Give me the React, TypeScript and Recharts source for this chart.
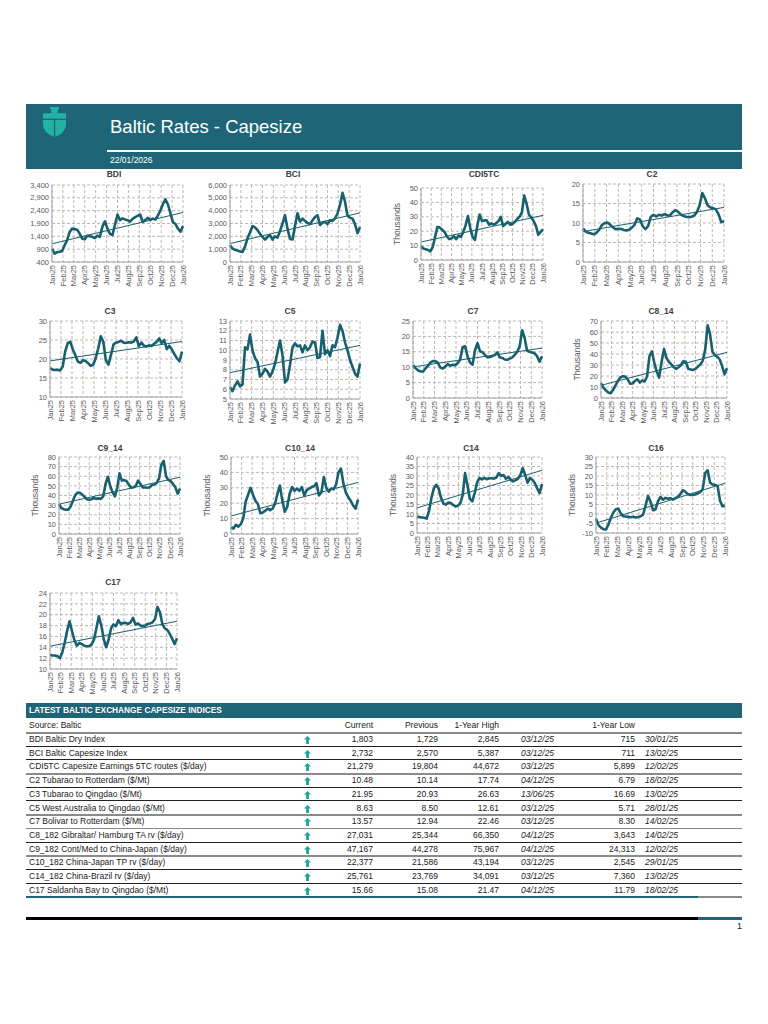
import React from "react";
import { LineChart, Line, XAxis, YAxis, CartesianGrid, ReferenceLine } from "recharts";

// month tick labels, Jan25 .. Jan26
const MONTHS = ["Jan25", "Feb25", "Mar25", "Apr25", "May25", "Jun25", "Jul25", "Aug25", "Sep25", "Oct25", "Nov25", "Dec25", "Jan26"];
const LAST_WEEK = 52;
const MONTH_TICKS = MONTHS.map((_, i) => (i * LAST_WEEK) / 12);

// weekly readings, one per week from Jan25 to Jan26
const BDI_VALUES = [920, 730, 780, 800, 830, 1050, 1250, 1570, 1700, 1680, 1660, 1500, 1310, 1290, 1420, 1400, 1380, 1330, 1430, 1380, 1780, 1980, 1700, 1500, 1450, 1850, 2250, 2030, 2100, 2060, 2030, 1970, 2080, 2150, 2200, 2250, 1960, 2030, 2120, 2040, 2090, 2060, 2200, 2400, 2650, 2845, 2650, 2300, 1950, 1880, 1700, 1580, 1803];
const BCI_VALUES = [1300, 1050, 950, 900, 820, 780, 1200, 1850, 2300, 2800, 2700, 2480, 2200, 1950, 1750, 1950, 2100, 1750, 2000, 1900, 2400, 3000, 3650, 2600, 1800, 1750, 2800, 3800, 3150, 3380, 3200, 3050, 2950, 3250, 3500, 3650, 2880, 3050, 3130, 2950, 3250, 3200, 3400, 3780, 4450, 5387, 4700, 3600, 3450, 3380, 2950, 2250, 2732];
const CDI5TC_VALUES = [9.5, 8.0, 7.5, 7.0, 6.0, 9.0, 16.0, 23.0, 22.5, 21.0, 19.5, 16.5, 14.5, 15.0, 16.5, 14.5, 17.0, 16.0, 19.5, 24.0, 30.5, 22.0, 16.0, 14.0, 24.0, 31.5, 27.0, 27.5, 27.5, 24.5, 25.5, 24.5, 25.5, 27.0, 30.0, 23.5, 25.0, 26.5, 24.5, 25.0, 26.5, 28.5, 30.0, 33.0, 44.7, 39.0, 31.5, 29.5, 27.0, 23.5, 17.5, 19.5, 21.3];
const C2_VALUES = [8.6, 7.8, 7.5, 7.3, 7.1, 7.5, 8.3, 9.5, 10.0, 10.1, 9.6, 8.9, 8.4, 8.5, 8.5, 8.2, 8.1, 8.3, 8.8, 9.5, 11.2, 10.9, 9.2, 8.4, 9.2, 11.6, 12.1, 11.7, 12.1, 11.9, 12.3, 12.0, 11.9, 12.7, 13.3, 12.9, 12.2, 11.8, 11.6, 11.5, 11.6, 11.9, 12.8, 14.5, 17.7, 16.3, 14.5, 14.0, 13.8, 13.5, 12.2, 10.2, 10.48];
const C3_VALUES = [17.6, 17.2, 17.1, 17.2, 17.0, 18.0, 22.0, 24.2, 24.5, 22.5, 21.0, 19.3, 19.0, 19.7, 19.5, 18.9, 18.2, 18.5, 20.2, 22.8, 26.0, 24.5, 19.7, 18.5, 21.0, 23.8, 24.3, 24.5, 24.8, 24.3, 24.2, 24.4, 24.3, 24.6, 25.7, 23.4, 24.3, 23.5, 23.3, 23.6, 23.4, 24.0, 24.5, 25.4, 24.2, 25.0, 22.6, 23.5, 22.5, 21.3, 20.2, 19.4, 21.95];
const C5_VALUES = [6.2, 5.8, 6.4, 6.8, 6.3, 6.5, 10.3, 10.1, 11.6, 10.0, 9.2, 8.8, 7.3, 7.6, 8.1, 7.8, 7.3, 7.8, 8.6, 9.8, 11.0, 9.5, 6.7, 7.0, 8.5, 10.3, 10.7, 10.4, 10.5, 9.8, 10.5, 10.0, 10.3, 10.9, 10.8, 9.2, 9.3, 12.0, 9.6, 10.0, 9.4, 10.5, 10.3, 11.3, 12.6, 12.0, 10.8, 10.0, 9.0, 8.3, 7.6, 7.3, 8.63];
const C7_VALUES = [10.7, 9.7, 9.0, 8.6, 8.6, 9.5, 10.4, 11.5, 12.0, 12.0, 11.5, 9.9, 9.6, 10.2, 11.0, 10.5, 10.8, 10.6, 11.3, 12.5, 16.5, 16.8, 13.5, 11.5, 10.8, 15.5, 17.8, 15.2, 14.9, 14.0, 13.2, 13.3, 13.6, 14.0, 14.8, 13.2, 13.0, 12.5, 12.4, 12.8, 13.2, 14.0, 15.0, 16.8, 22.0, 19.5, 15.3, 15.0, 14.8, 14.5, 13.6, 11.8, 13.57];
const C8_14_VALUES = [13.6, 9.5, 7.0, 5.0, 4.3, 7.5, 11.5, 15.5, 18.8, 19.8, 19.5, 17.0, 13.0, 13.2, 15.5, 17.0, 14.0, 16.0, 15.0, 19.5, 38.0, 42.5, 32.0, 24.0, 18.5, 33.0, 44.5, 36.5, 33.0, 30.5, 28.0, 26.5, 28.0, 30.0, 33.5, 33.0, 26.5, 26.0, 25.5, 26.5, 28.5, 30.5, 34.0, 44.0, 66.0, 58.0, 42.0, 39.0, 37.5, 35.0, 29.0, 21.5, 27.0];
const C9_14_VALUES = [31.0, 27.0, 25.8, 25.3, 25.2, 28.5, 34.5, 40.5, 43.0, 42.8, 41.0, 38.5, 36.0, 35.5, 36.2, 37.5, 36.5, 37.0, 36.5, 39.0, 52.0, 59.5, 50.0, 43.5, 39.0, 48.0, 63.0, 55.5, 56.0, 55.0, 51.0, 48.0, 48.5, 50.0, 55.5, 52.0, 48.3, 48.3, 48.0, 48.5, 51.0, 51.5, 53.0, 58.0, 72.0, 75.9, 60.0, 56.0, 55.0, 52.0, 48.5, 42.0, 47.2];
const C10_14_VALUES = [4.5, 3.5, 6.0, 4.8, 6.3, 10.0, 21.0, 25.5, 30.0, 25.5, 21.5, 19.5, 13.5, 14.0, 15.0, 16.5, 15.5, 16.5, 19.5, 26.0, 31.5, 22.0, 14.5, 17.5, 26.0, 30.5, 28.0, 29.5, 28.0, 30.5, 25.0, 28.5, 29.5, 30.5, 31.0, 33.0, 25.0, 27.0, 37.0, 30.0, 27.5, 29.5, 29.0, 32.0, 40.0, 42.5, 33.0, 27.0, 24.0, 21.5, 18.5, 16.5, 22.4];
const C14_VALUES = [8.8, 8.3, 8.2, 8.0, 7.6, 11.5, 18.5, 23.5, 25.3, 23.5, 18.5, 15.5, 14.9, 16.0, 15.8, 14.8, 14.0, 14.4, 15.5, 20.0, 31.5, 25.0, 18.0, 16.7, 21.0, 26.5, 29.0, 28.2, 29.0, 28.3, 28.8, 28.8, 28.6, 29.2, 31.5, 30.0, 30.5, 28.5, 29.5, 28.0, 27.2, 27.8, 28.5, 30.5, 34.1, 30.5, 26.5, 29.0, 28.0, 26.3, 23.5, 21.0, 25.8];
const C16_VALUES = [-2.5, -5.8, -7.2, -8.0, -8.2, -5.5, -2.0, 0.8, 2.5, 2.8, 0.3, -1.2, -1.3, -1.5, -1.7, -1.4, -1.8, -1.6, -1.2, -0.3, 4.5, 9.5, 6.5, 2.0, 2.5, 6.8, 9.0, 7.5, 8.5, 8.0, 8.3, 7.5, 8.3, 9.0, 10.5, 12.5, 11.8, 10.5, 10.0, 10.0, 10.3, 10.9, 11.5, 13.0, 21.5, 23.0, 16.5, 15.5, 15.3, 14.8, 7.0, 4.0, 4.5];
const C17_VALUES = [12.6, 12.5, 12.5, 12.4, 12.0, 13.0, 14.8, 17.0, 18.8, 17.0, 15.3, 14.3, 14.8, 14.6, 14.3, 14.2, 14.2, 14.5, 15.4, 17.5, 19.7, 18.0, 15.5, 14.0, 15.4, 17.5, 18.2, 17.9, 19.0, 18.3, 18.5, 18.5, 18.3, 18.6, 19.4, 18.2, 18.4, 18.0, 17.9, 18.0, 18.3, 18.4, 18.6, 19.2, 21.4, 20.5, 18.3, 17.5, 17.2, 16.5, 15.6, 14.6, 15.66];

// trend line end points [start, end]
const BDI_TREND = [1110, 2330];
const BCI_TREND = [1440, 3830];
const CDI5TC_TREND = [12.5, 31];
const C2_TREND = [7.8, 14.0];
const C3_TREND = [19.5, 24.6];
const C5_TREND = [7.7, 10.5];
const C7_TREND = [10.1, 16.2];
const C8_14_TREND = [11.5, 41.5];
const C9_14_TREND = [31, 59];
const C10_14_TREND = [11.7, 33.5];
const C14_TREND = [13.2, 33];
const C16_TREND = [-4.8, 16.2];
const C17_TREND = [14.2, 18.8];

// y axis ticks
const BDI_TICKS = [400, 900, 1400, 1900, 2400, 2900, 3400];
const BCI_TICKS = [0, 1000, 2000, 3000, 4000, 5000, 6000];
const CDI5TC_TICKS = [0, 10, 20, 30, 40, 50];
const C2_TICKS = [0, 5, 10, 15, 20];
const C3_TICKS = [10, 15, 20, 25, 30];
const C5_TICKS = [5, 6, 7, 8, 9, 10, 11, 12, 13];
const C7_TICKS = [0, 5, 10, 15, 20, 25];
const C8_14_TICKS = [0, 10, 20, 30, 40, 50, 60, 70];
const C9_14_TICKS = [0, 10, 20, 30, 40, 50, 60, 70, 80];
const C10_14_TICKS = [0, 10, 20, 30, 40, 50];
const C14_TICKS = [0, 5, 10, 15, 20, 25, 30, 35, 40];
const C16_TICKS = [-10, -5, 0, 5, 10, 15, 20, 25, 30];
const C17_TICKS = [10, 12, 14, 16, 18, 20, 22, 24];

// table
const ROW_NAMES = [
  "BDI Baltic Dry Index",
  "BCI Baltic Capesize Index",
  "CDI5TC Capesize Earnings 5TC routes ($/day)",
  "C2 Tubarao to Rotterdam ($/Mt)",
  "C3 Tubarao to Qingdao ($/Mt)",
  "C5 West Australia to Qingdao ($/Mt)",
  "C7 Bolivar to Rotterdam ($/Mt)",
  "C8_182 Gibraltar/ Hamburg TA rv ($/day)",
  "C9_182 Cont/Med to China-Japan ($/day)",
  "C10_182 China-Japan TP rv ($/day)",
  "C14_182 China-Brazil rv ($/day)",
  "C17 Saldanha Bay to Qingdao ($/Mt)",
];
const CURRENT = ["1,803", "2,732", "21,279", "10.48", "21.95", "8.63", "13.57", "27,031", "47,167", "22,377", "25,761", "15.66"];
const PREVIOUS = ["1,729", "2,570", "19,804", "10.14", "20.93", "8.50", "12.94", "25,344", "44,278", "21,586", "23,769", "15.08"];
const YEAR_HIGH = ["2,845", "5,387", "44,672", "17.74", "26.63", "12.61", "22.46", "66,350", "75,967", "43,194", "34,091", "21.47"];
const YEAR_HIGH_DATE = ["03/12/25", "03/12/25", "03/12/25", "04/12/25", "13/06/25", "03/12/25", "03/12/25", "04/12/25", "04/12/25", "03/12/25", "03/12/25", "04/12/25"];
const YEAR_LOW = ["715", "711", "5,899", "6.79", "16.69", "5.71", "8.30", "3,643", "24,313", "2,545", "7,360", "11.79"];
const YEAR_LOW_DATE = ["30/01/25", "13/02/25", "12/02/25", "18/02/25", "13/02/25", "28/01/25", "14/02/25", "14/02/25", "12/02/25", "29/01/25", "13/02/25", "18/02/25"];

const TEAL = "#1d6577";
const LINE = "#17606f";
const FONT = '"Liberation Sans", Arial, sans-serif';

type Spec = {
  title: string;
  values: number[];
  trend: number[];
  ticks: number[];
  thousands?: boolean;
  x: number; y: number; w: number; h: number;
  tx: number; ty: number;
};

const CHARTS: Spec[] = [
  { title: "BDI", values: BDI_VALUES, trend: BDI_TREND, ticks: BDI_TICKS, x: 52, y: 185, w: 131, h: 77, tx: 114, ty: 174 },
  { title: "BCI", values: BCI_VALUES, trend: BCI_TREND, ticks: BCI_TICKS, x: 230, y: 185, w: 130, h: 77, tx: 293, ty: 174 },
  { title: "CDI5TC", values: CDI5TC_VALUES, trend: CDI5TC_TREND, ticks: CDI5TC_TICKS, thousands: true, x: 421, y: 188, w: 122, h: 72, tx: 484, ty: 174 },
  { title: "C2", values: C2_VALUES, trend: C2_TREND, ticks: C2_TICKS, x: 583, y: 184, w: 141, h: 78, tx: 652, ty: 174 },
  { title: "C3", values: C3_VALUES, trend: C3_TREND, ticks: C3_TICKS, x: 50, y: 321, w: 132, h: 76, tx: 110, ty: 311 },
  { title: "C5", values: C5_VALUES, trend: C5_TREND, ticks: C5_TICKS, x: 230, y: 321, w: 130, h: 78, tx: 290, ty: 311 },
  { title: "C7", values: C7_VALUES, trend: C7_TREND, ticks: C7_TICKS, x: 413, y: 321, w: 129, h: 77, tx: 473, ty: 311 },
  { title: "C8_14", values: C8_14_VALUES, trend: C8_14_TREND, ticks: C8_14_TICKS, thousands: true, x: 601, y: 321, w: 126, h: 77, tx: 661, ty: 311 },
  { title: "C9_14", values: C9_14_VALUES, trend: C9_14_TREND, ticks: C9_14_TICKS, thousands: true, x: 59, y: 457, w: 121, h: 77, tx: 110, ty: 448 },
  { title: "C10_14", values: C10_14_VALUES, trend: C10_14_TREND, ticks: C10_14_TICKS, thousands: true, x: 231, y: 457, w: 127, h: 77, tx: 300, ty: 448 },
  { title: "C14", values: C14_VALUES, trend: C14_TREND, ticks: C14_TICKS, thousands: true, x: 417, y: 457, w: 125, h: 76, tx: 471, ty: 448 },
  { title: "C16", values: C16_VALUES, trend: C16_TREND, ticks: C16_TICKS, thousands: true, x: 596, y: 457, w: 129, h: 76, tx: 656, ty: 448 },
  { title: "C17", values: C17_VALUES, trend: C17_TREND, ticks: C17_TICKS, x: 50, y: 593, w: 127, h: 76, tx: 113, ty: 582 },
];

const MonthTick = ({ x, y, payload }: any) => {
  const idx = MONTH_TICKS.indexOf(payload.value);
  return (
    <text x={x} y={y} transform={`rotate(-90 ${x} ${y})`} textAnchor="end" dy={2.6} fontSize={7.5} fill="#595959" fontFamily={FONT}>
      {MONTHS[idx]}
    </text>
  );
};

const LM = 46;
const YW = 30;
const TM = 4;
const RM = 6;
const XH = 34;

const MiniChart = ({ spec }: { spec: Spec }) => {
  const data = spec.values.map((v, i) => ({ week: i, value: v }));
  const lo = spec.ticks[0];
  const hi = spec.ticks[spec.ticks.length - 1];
  return (
    <>
      <div style={{ position: "absolute", left: spec.tx - 40, top: spec.ty - 6, width: 80, textAlign: "center", fontSize: 8.5, fontWeight: 700, color: "#404040", lineHeight: "12px" }}>
        {spec.title}
      </div>
      <div style={{ position: "absolute", left: spec.x - LM, top: spec.y - TM }}>
        <LineChart width={LM + spec.w + RM} height={TM + spec.h + XH} data={data} margin={{ top: TM, right: RM, bottom: 0, left: LM - YW }}>
          <CartesianGrid stroke="#bfb8b0" strokeDasharray="3 2" />
          <XAxis
            dataKey="week"
            type="number"
            domain={[0, LAST_WEEK]}
            ticks={MONTH_TICKS}
            interval={0}
            height={XH}
            tick={<MonthTick />}
            tickLine={false}
            tickSize={2}
            tickMargin={1}
            stroke="#a6a6a6"
          />
          <YAxis
            type="number"
            domain={[lo, hi]}
            ticks={spec.ticks}
            interval={0}
            width={YW}
            allowDataOverflow
            tickLine={false}
            tickSize={0}
            tickMargin={3}
            tick={{ fontSize: 7.5, fill: "#595959", fontFamily: FONT }}
            tickFormatter={(v: number) => v.toLocaleString("en-US")}
            stroke="#a6a6a6"
            label={
              spec.thousands
                ? { value: "Thousands", angle: -90, position: "insideLeft", offset: 6, style: { fontSize: 8.5, fill: "#595959", textAnchor: "middle", fontFamily: FONT } }
                : undefined
            }
          />
          <ReferenceLine
            segment={[{ x: 0, y: spec.trend[0] }, { x: LAST_WEEK, y: spec.trend[1] }]}
            stroke={LINE}
            strokeWidth={1}
          />
          <Line type="linear" dataKey="value" stroke={LINE} strokeWidth={2.6} dot={false} isAnimationActive={false} strokeLinejoin="round" />
        </LineChart>
      </div>
    </>
  );
};

const Arrow = () => (
  <svg width={7} height={8} viewBox="0 0 7 8">
    <path d="M3.5,0 L7,3.6 L4.9,3.6 L4.9,8 L2.1,8 L2.1,3.6 L0,3.6 Z" fill="#1aa59a" />
  </svg>
);

const ROW_TOP = 733;
const ROW_H = 13.7;
const ROW_LINES = ["#222", "#222", "#8a8a8a", "#222", "#222", "#8a8a8a", "#8a8a8a", "#222", "#8a8a8a", "#222", "#222"];

const cell = (left: number, text: string, align: "left" | "right", italic = false) => (
  <div
    style={{
      position: "absolute",
      left: align === "left" ? left : left - 120,
      width: align === "left" ? 300 : 120,
      textAlign: align,
      whiteSpace: "nowrap",
      fontStyle: italic ? "italic" : "normal",
    }}
  >
    {text}
  </div>
);

const Table = () => (
  <>
    <div style={{ position: "absolute", left: 26, top: 703, width: 716, height: 15, background: TEAL }} />
    <div style={{ position: "absolute", left: 29, top: 703, height: 15, lineHeight: "15px", fontSize: 8.3, fontWeight: 700, color: "#fff", whiteSpace: "nowrap" }}>
      LATEST BALTIC EXCHANGE CAPESIZE INDICES
    </div>
    <div style={{ position: "absolute", left: 0, top: 719, width: 768, height: 13, lineHeight: "13px", fontSize: 8.5, color: "#222" }}>
      {cell(29, "Source: Baltic", "left")}
      {cell(373, "Current", "right")}
      {cell(438, "Previous", "right")}
      {cell(499, "1-Year High", "right")}
      {cell(635, "1-Year Low", "right")}
    </div>
    <div style={{ position: "absolute", left: 26, top: 732, width: 716, height: 2, background: "#8a8a8a" }} />
    {ROW_NAMES.map((name, i) => {
      const top = ROW_TOP + i * ROW_H;
      return (
        <div key={name} style={{ position: "absolute", left: 0, top, width: 768, height: ROW_H, lineHeight: `${ROW_H}px`, fontSize: 8.5, color: "#1a1a1a" }}>
          {cell(29, name, "left")}
          <div style={{ position: "absolute", left: 303.5, top: 3, lineHeight: 0 }}>
            <Arrow />
          </div>
          {cell(373, CURRENT[i], "right")}
          {cell(438, PREVIOUS[i], "right")}
          {cell(499, YEAR_HIGH[i], "right")}
          {cell(521, YEAR_HIGH_DATE[i], "left", true)}
          {cell(635, YEAR_LOW[i], "right")}
          {cell(645, YEAR_LOW_DATE[i], "left", true)}
          {i < ROW_LINES.length && (
            <div style={{ position: "absolute", left: 26, top: ROW_H - 1, width: 716, height: ROW_LINES[i] === "#222" ? 1 : 1.6, background: ROW_LINES[i] }} />
          )}
        </div>
      );
    })}
    <div style={{ position: "absolute", left: 26, top: ROW_TOP + ROW_NAMES.length * ROW_H - 1, width: 672, height: 2, background: TEAL }} />
    <div style={{ position: "absolute", left: 698, top: ROW_TOP + ROW_NAMES.length * ROW_H - 1, width: 44, height: 2, background: "#8a8a8a" }} />
    <div style={{ position: "absolute", left: 26, top: 917, width: 672, height: 3, background: "#000" }} />
    <div style={{ position: "absolute", left: 698, top: 917, width: 44, height: 3, background: TEAL }} />
    <div style={{ position: "absolute", left: 700, top: 921, width: 42, textAlign: "right", fontSize: 9, color: "#222" }}>1</div>
  </>
);

const Header = () => (
  <>
    <div style={{ position: "absolute", left: 26, top: 104, width: 716, height: 65, background: TEAL }} />
    <svg style={{ position: "absolute", left: 43, top: 106 }} width={24} height={32} viewBox="0 0 24 32">
      <rect x={7} y={1} width={9} height={2.2} fill="#23b3a5" />
      <rect x={8.2} y={3} width={6.6} height={4.5} fill="#23b3a5" />
      <path d="M0,7.3 L23,7.3 L23,18 Q23,27 11.5,31 Q0,27 0,18 Z" fill="#23b3a5" />
      <rect x={0} y={12.6} width={23} height={1.3} fill={TEAL} />
      <rect x={10.9} y={13} width={1.3} height={18} fill={TEAL} />
    </svg>
    <div style={{ position: "absolute", left: 110, top: 118, fontSize: 18.5, lineHeight: 1, color: "#fff", whiteSpace: "nowrap" }}>Baltic Rates - Capesize</div>
    <div style={{ position: "absolute", left: 107, top: 150, width: 635, height: 2, background: "#fff" }} />
    <div style={{ position: "absolute", left: 110, top: 154, fontSize: 8.5, lineHeight: "12px", color: "#fff" }}>22/01/2026</div>
  </>
);

export default function App() {
  return (
    <div style={{ position: "absolute", left: 0, top: 0, width: 768, height: 1024, background: "#fff", fontFamily: FONT, overflow: "hidden" }}>
      <Header />
      {CHARTS.map((spec) => (
        <MiniChart key={spec.title} spec={spec} />
      ))}
      <Table />
    </div>
  );
}
